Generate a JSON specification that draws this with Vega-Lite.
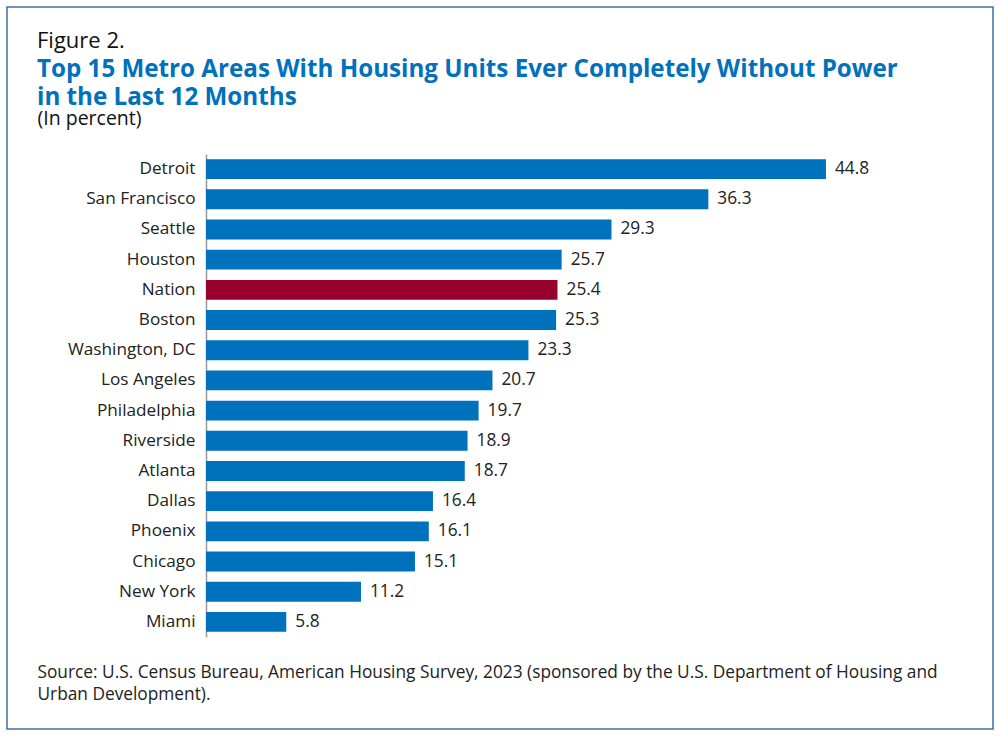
{
  "$schema": "https://vega.github.io/schema/vega-lite/v6.json",
  "width": 1000,
  "height": 736,
  "autosize": {"type": "fit", "contains": "padding"},
  "padding": 7,
  "background": "white",
  "config": {
    "font": "Open Sans",
    "view": {"stroke": "#3e6fa5", "strokeWidth": 1.5, "fill": "white"}
  },
  "title": {
    "text": "Figure 2.",
    "subtitle": ["Top 15 Metro Areas With Housing Units Ever Completely Without Power", "in the Last 12 Months"],
    "anchor": "start",
    "frame": "group",
    "dx": 30,
    "offset": -104,
    "fontSize": 22,
    "fontWeight": "normal",
    "color": "#111111",
    "subtitleFontSize": 24.2,
    "subtitleFontWeight": "bold",
    "subtitleColor": "#0071bc",
    "subtitleLineHeight": 28,
    "subtitlePadding": 5
  },
  "data": {
    "values": [
      {"area": "Detroit", "pct": 44.8},
      {"area": "San Francisco", "pct": 36.3},
      {"area": "Seattle", "pct": 29.3},
      {"area": "Houston", "pct": 25.7},
      {"area": "Nation", "pct": 25.4},
      {"area": "Boston", "pct": 25.3},
      {"area": "Washington, DC", "pct": 23.3},
      {"area": "Los Angeles", "pct": 20.7},
      {"area": "Philadelphia", "pct": 19.7},
      {"area": "Riverside", "pct": 18.9},
      {"area": "Atlanta", "pct": 18.7},
      {"area": "Dallas", "pct": 16.4},
      {"area": "Phoenix", "pct": 16.1},
      {"area": "Chicago", "pct": 15.1},
      {"area": "New York", "pct": 11.2},
      {"area": "Miami", "pct": 5.8}
    ]
  },
  "encoding": {
    "y": {
      "field": "area",
      "type": "nominal",
      "sort": null,
      "scale": {"range": [147, 630], "paddingInner": 0.34, "paddingOuter": 0.17},
      "axis": {
        "title": "(In percent)",
        "titleAngle": 0,
        "titleAlign": "left",
        "titleBaseline": "alphabetic",
        "titleX": -169,
        "titleY": 117,
        "titleFontSize": 19.5,
        "titleFontWeight": "normal",
        "titleColor": "#111111",
        "offset": -199,
        "ticks": false,
        "labelPadding": 11,
        "labelFontSize": 17.2,
        "labelColor": "#222222",
        "labelLimit": 300,
        "domainColor": "#999999",
        "domainWidth": 1.5,
        "grid": false
      }
    },
    "x": {
      "field": "pct",
      "type": "quantitative",
      "scale": {"domain": [-14.38, 56.87], "nice": false, "zero": false},
      "axis": {
        "title": ["Source: U.S. Census Bureau, American Housing Survey, 2023 (sponsored by the U.S. Department of Housing and", "Urban Development)."],
        "labels": false,
        "ticks": false,
        "domain": false,
        "grid": false,
        "titleX": 30,
        "titleY": -52,
        "titleAlign": "left",
        "titleAnchor": null,
        "titleBaseline": "alphabetic",
        "titleFontSize": 17.3,
        "titleFontWeight": "normal",
        "titleColor": "#222222",
        "titleLineHeight": 22
      }
    }
  },
  "layer": [
    {
      "mark": {"type": "bar"},
      "encoding": {
        "x2": {"datum": 0},
        "color": {
          "condition": {"test": "datum.area === 'Nation'", "value": "#98002e"},
          "value": "#0071bc"
        }
      }
    },
    {
      "mark": {"type": "text", "align": "left", "dx": 9, "fontSize": 17.3, "color": "#222222"},
      "encoding": {
        "text": {"field": "pct", "type": "quantitative", "format": ".1f"}
      }
    }
  ]
}
